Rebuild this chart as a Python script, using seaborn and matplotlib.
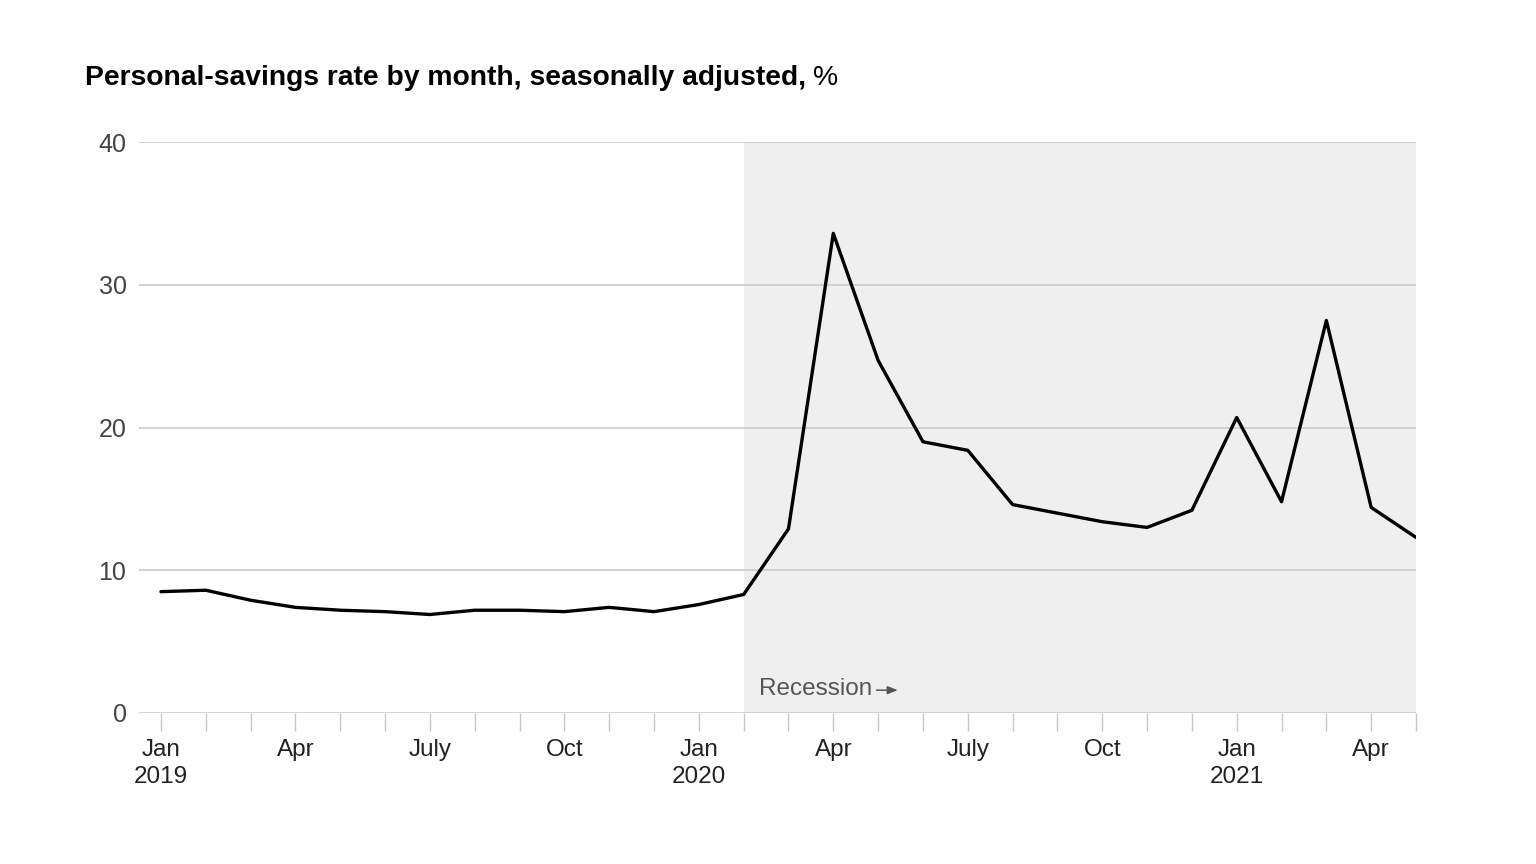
import matplotlib
matplotlib.use("Agg")
import matplotlib.pyplot as plt
import seaborn as sns
import pandas as pd

months = ["2019-01", "2019-02", "2019-03", "2019-04", "2019-05", "2019-06", "2019-07",
          "2019-08", "2019-09", "2019-10", "2019-11", "2019-12", "2020-01", "2020-02",
          "2020-03", "2020-04", "2020-05", "2020-06", "2020-07", "2020-08", "2020-09",
          "2020-10", "2020-11", "2020-12", "2021-01", "2021-02", "2021-03", "2021-04",
          "2021-05"]
savings_rate = [8.5, 8.6, 7.9, 7.4, 7.2, 7.1, 6.9, 7.2, 7.2, 7.1, 7.4, 7.1, 7.6, 8.3,
                12.9, 33.6, 24.7, 19.0, 18.4, 14.6, 14.0, 13.4, 13.0, 14.2, 20.7, 14.8,
                27.5, 14.4, 12.3]
tick_labels = {0: "Jan\n2019", 3: "Apr", 6: "July", 9: "Oct", 12: "Jan\n2020",
               15: "Apr", 18: "July", 21: "Oct", 24: "Jan\n2021", 27: "Apr"}
y_ticks = [0, 10, 20, 30, 40]
recession_start = "2020-02"
title = "Personal-savings rate by month, seasonally adjusted,"

df = pd.DataFrame({"month": months, "rate": savings_rate})
df["idx"] = range(len(df))

sns.set_theme(style="white")
plt.rcParams["font.family"] = ["Liberation Sans", "DejaVu Sans"]

fig = plt.figure(figsize=(15.36, 8.64), dpi=100)
ax = fig.add_axes([139/1536, 1 - 713/864, (1416 - 139)/1536, (713 - 142)/864])

rec_idx = months.index(recession_start)
ax.axvspan(rec_idx, len(months) - 1, color="#efefef", zorder=0, lw=0)

for y in y_ticks:
    ax.axhline(y, color="#c8c8c8", lw=1.1, zorder=1)

sns.lineplot(data=df, x="idx", y="rate", ax=ax, color="black", lw=2.4, zorder=3)

ax.set_xlim(-0.49, len(months) - 1)
ax.set_ylim(0, 40)
for s in ax.spines.values():
    s.set_visible(False)

ax.set_xticks(list(range(len(months))))
ax.set_xticklabels([tick_labels.get(i, "") for i in range(len(months))],
                   fontsize=17.5, color="#222222", linespacing=1.3)
ax.tick_params(axis="x", which="major", direction="out", length=13, width=1,
               color="#c8c8c8", pad=6, bottom=True)
ax.set_yticks(y_ticks)
ax.set_yticklabels([str(v) for v in y_ticks], fontsize=18, color="#444444")
ax.tick_params(axis="y", length=0, pad=9)
ax.set_xlabel("")
ax.set_ylabel("")

ax.text(rec_idx + 0.35, 1.65, "Recession", fontsize=17.5, color="#555555",
        ha="left", va="center", zorder=4)
ax.annotate("", xy=(rec_idx + 3.5, 1.6), xytext=(rec_idx + 2.9, 1.6),
            arrowprops=dict(arrowstyle="-|>,head_length=0.5,head_width=0.2",
                            color="#555555", lw=1.1), zorder=4)

fig.text(85/1536, 1 - 78/864, title, fontsize=20.3, fontweight="bold",
         color="black", ha="left", va="center")
fig.canvas.draw()
t = fig.texts[0]
bb = t.get_window_extent()
fig.text(bb.x1 / 1536 + 7/1536, 1 - 78/864, "%", fontsize=20.3, color="black",
         ha="left", va="center")

fig.savefig("out.png", dpi=100)
